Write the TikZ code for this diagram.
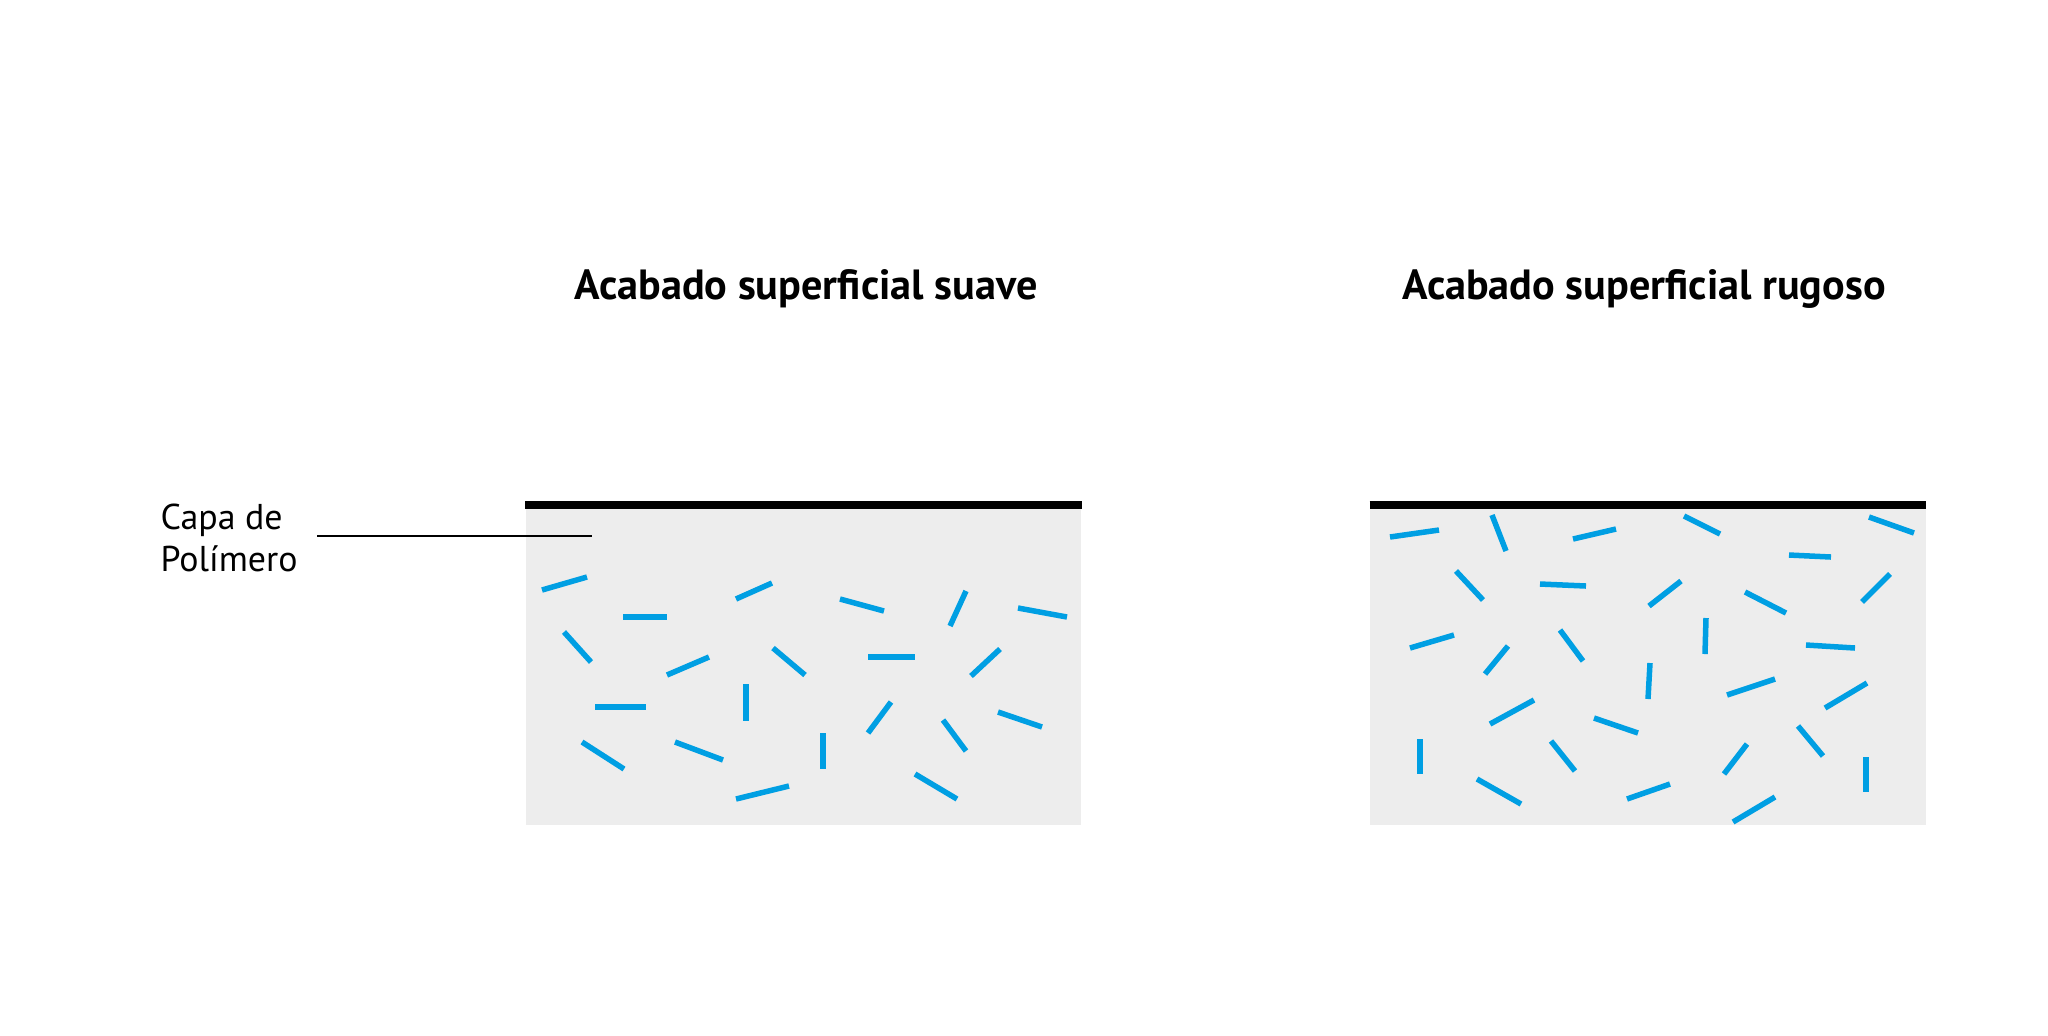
\documentclass[tikz,border=0pt]{standalone}
\usepackage{fontspec}
\setmainfont{PT Sans}
\usetikzlibrary{positioning}
\definecolor{azulfibra}{HTML}{009FE3}
\definecolor{grismatriz}{HTML}{EDEDED}

\begin{document}
\begin{tikzpicture}[x=0.01cm, y=-0.01cm]
        % Define styles
        \tikzstyle{panel} = [rectangle, fill=grismatriz, inner sep=0pt,
            minimum width=5.55cm, minimum height=3.19cm]
        \tikzstyle{titulo} = [font=\bfseries\fontsize{12}{14}\selectfont]
        \tikzstyle{etiqueta} = [align=left, inner sep=0pt,
            font=\fontsize{10.2}{12}\selectfont]
        \tikzstyle{barra} = [draw, line width=0.08cm]
        \tikzstyle{guia} = [draw, line width=0.6pt]
        \tikzstyle{fibra} = [draw=azulfibra, line width=0.055cm]

        \useasboundingbox (0,0) rectangle (2048,1035);

        % Panels
        \node [panel] (suave) at (803.5,665.5) {};
        \node [panel] (rugoso) at (1648,665.5) {};
        \node [titulo] (tsuave) at (806,289) {Acabado superficial suave};
        \node [titulo] (trugoso) at (1644,289) {Acabado superficial rugoso};

        % Label
        \node [etiqueta, anchor=west] (capa) at (160,538) {Capa de\\Polímero};
        \coordinate (punta) at (592,536);

        % Fibres, smooth finish
        \foreach \xa/\ya/\xb/\yb in {542/590/587/577, 623/617/667/617,
            736/599/772/583, 840/599/884/611, 950/626/966/591,
            1018/608/1067/617, 564/632/591/662, 667/675/709/657,
            773/648/805/675, 868/657/915/657, 971/676/1000/649,
            595/707/646/707, 746/684/746/721, 868/733/891/702,
            943/720/966/751, 998/712/1042/727, 582/742/624/769,
            675/742/723/760, 823/733/823/769, 736/799/789/786,
            915/774/957/799}
            \draw [fibra] (\xa,\ya) -- (\xb,\yb);

        % Fibres, rough finish
        \foreach \xa/\ya/\xb/\yb in {1390/537/1439/530, 1492/515/1506/551,
            1573/539/1616/529, 1684/516/1720/534, 1869/517/1914/533,
            1789/555/1831/557, 1456/571/1483/600, 1540/584/1586/586,
            1649/606/1681/581, 1745/592/1786/613, 1862/602/1890/574,
            1410/648/1454/635, 1485/674/1508/646, 1560/630/1583/661,
            1706/618/1705/654, 1806/645/1855/648, 1650/663/1648/699,
            1727/695/1775/679, 1490/724/1534/700, 1594/718/1638/733,
            1825/708/1867/683, 1420/739/1420/774, 1551/741/1575/771,
            1798/726/1823/756, 1724/774/1747/744, 1866/757/1866/792,
            1477/779/1521/804, 1627/799/1670/784, 1733/822/1775/797}
            \draw [fibra] (\xa,\ya) -- (\xb,\yb);

        % Surface bars
        \path [barra] (suave.north west) -- (suave.north east);
        \path [barra] (rugoso.north west) -- (rugoso.north east);

        % Leader
        \path [guia, shorten <=5.4pt] (capa.east |- punta) -- (punta);
    \end{tikzpicture}
\end{document}
